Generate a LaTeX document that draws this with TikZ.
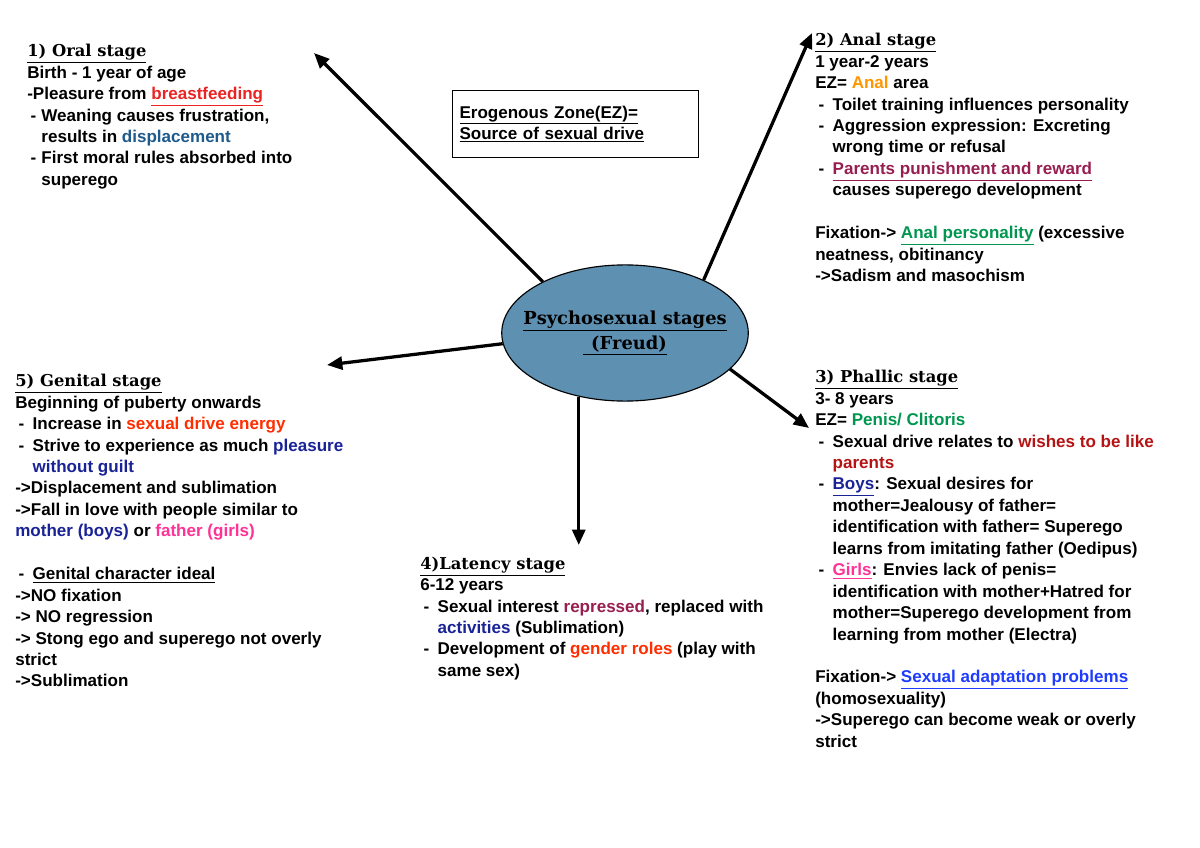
\documentclass[tikz,border=0pt]{standalone}
\usepackage{fontspec}
\setmainfont{Liberation Sans}
\newfontfamily\slab{DejaVu Serif}
\usetikzlibrary{arrows.meta, shapes.geometric}

\definecolor{hubblue}{RGB}{94,144,178}
\definecolor{redtxt}{RGB}{235,35,35}
\definecolor{orangered}{RGB}{255,45,0}
\definecolor{tealtxt}{RGB}{30,90,140}
\definecolor{orangetxt}{RGB}{255,150,0}
\definecolor{maroontxt}{RGB}{150,30,80}
\definecolor{greentxt}{RGB}{0,150,80}
\definecolor{darkredtxt}{RGB}{180,20,20}
\definecolor{navytxt}{RGB}{25,35,150}
\definecolor{pinktxt}{RGB}{255,50,150}
\definecolor{linkblue}{RGB}{30,60,255}

\newcommand{\bodyfont}{\fontsize{12}{15.1}\selectfont\bfseries}
\newcommand{\stagehead}[1]{{\slab\bfseries\fontsize{11.5}{15.1}\selectfont\underline{#1}}}
\newcommand{\ul}[2]{\textcolor{#1}{\underline{#2}}}
\newcommand{\dsh}[1][4.3mm]{\makebox[#1][l]{\hspace{0.8mm}-}}
\newcommand{\ind}[1][4.3mm]{\hspace*{#1}}

\begin{document}
\begin{tikzpicture}[
  x=0.2475mm, y=-0.2475mm,
  >=Triangle,
  stage/.style={anchor=north west, inner sep=0pt, align=left, font=\bodyfont},
  hub/.style={ellipse, draw, line width=0.8pt, fill=hubblue, minimum width=60.6mm,
    minimum height=33.7mm, inner xsep=-3.6mm, inner ysep=0pt, align=center,
    font=\slab\bfseries\fontsize{12.6}{17.5}\selectfont},
  ezbox/.style={rectangle, draw, line width=0.9pt, anchor=north west, minimum width=60.9mm,
    minimum height=16.6mm, text width=57.5mm, inner xsep=1.7mm, inner ysep=0pt,
    align=left, font=\bodyfont},
  arr/.style={line width=2.3pt, -{Triangle[length=3.8mm, width=3.2mm]}}
]
\useasboundingbox (0,0) rectangle (1200,848);

% Centre
\node[hub] (psy) at (625,333) {\underline{Psychosexual stages}\\\underline{\hspace{2mm}(Freud)}};

% Note box
\node[ezbox] (ez) at (452,90) {\underline{Erogenous Zone(EZ)=}\\\underline{Source of sexual drive}};

% Stage 1
\node[stage] (oral) at (27,44) {\stagehead{1) Oral stage}\\
Birth - 1 year of age\\
-Pleasure from \ul{redtxt}{breastfeeding}\\
\dsh[3.5mm]Weaning causes frustration,\\
\ind[3.5mm]results in \textcolor{tealtxt}{displacement}\\
\dsh[3.5mm]First moral rules absorbed into\\
\ind[3.5mm]superego};

% Stage 2
\node[stage] (anal) at (815,33) {\stagehead{2) Anal stage}\\
1 year-2 years\\
EZ= \textcolor{orangetxt}{Anal} area\\
\dsh Toilet training influences personality\\
\dsh Aggression expression: Excreting\\
\ind wrong time or refusal\\
\dsh\ul{maroontxt}{Parents punishment and reward}\\
\ind causes superego development\\
\strut\\
Fixation-> \ul{greentxt}{Anal personality} (excessive\\
neatness, obitinancy\\
->Sadism and masochism};

% Stage 3
\node[stage] (phallic) at (815,370) {\stagehead{3) Phallic stage}\\
3- 8 years\\
EZ= \textcolor{greentxt}{Penis/ Clitoris}\\
\dsh Sexual drive relates to \textcolor{darkredtxt}{wishes to be like}\\
\ind\textcolor{darkredtxt}{parents}\\
\dsh\ul{navytxt}{Boys}: Sexual desires for\\
\ind mother=Jealousy of father=\\
\ind identification with father= Superego\\
\ind learns from imitating father (Oedipus)\\
\dsh\ul{pinktxt}{Girls}: Envies lack of penis=\\
\ind identification with mother+Hatred for\\
\ind mother=Superego development from\\
\ind learning from mother (Electra)\\
\strut\\
Fixation-> \ul{linkblue}{Sexual adaptation problems}\\
(homosexuality)\\
->Superego can become weak or overly\\
strict};

% Stage 4
\node[stage] (latency) at (420,556.5) {\stagehead{4)Latency stage}\\
6-12 years\\
\dsh Sexual interest \textcolor{maroontxt}{repressed}, replaced with\\
\ind\textcolor{navytxt}{activities} (Sublimation)\\
\dsh Development of \textcolor{orangered}{gender roles} (play with\\
\ind same sex)};

% Stage 5
\node[stage] (genital) at (15,374) {\stagehead{5) Genital stage}\\
Beginning of puberty onwards\\
\dsh Increase in \textcolor{orangered}{sexual drive energy}\\
\dsh Strive to experience as much \textcolor{navytxt}{pleasure}\\
\ind\textcolor{navytxt}{without guilt}\\
->Displacement and sublimation\\
->Fall in love with people similar to\\
\textcolor{navytxt}{mother (boys)} or \textcolor{pinktxt}{father (girls)}\\
\strut\\
\dsh\underline{Genital character ideal}\\
->NO fixation\\
-> NO regression\\
-> Stong ego and superego not overly\\
strict\\
->Sublimation};

% Arrow ends
\coordinate (oraltip) at (314,53);
\coordinate (analtip) at (812,33);
\coordinate (phallictip) at (809,428);
\coordinate (latencytip) at (576,545);
\coordinate (genitaltip) at (327,365);

% Arrows out of the centre
\draw[arr] (psy.148) -- (oraltip);
\draw[arr] (psy.34) -- (analtip);
\draw[arr] (psy.-19) -- (phallictip);
\draw[arr] (psy.234) -- (psy.234 |- latencytip);
\draw[arr] (psy.185) -- (genitaltip);

\end{tikzpicture}
\end{document}
